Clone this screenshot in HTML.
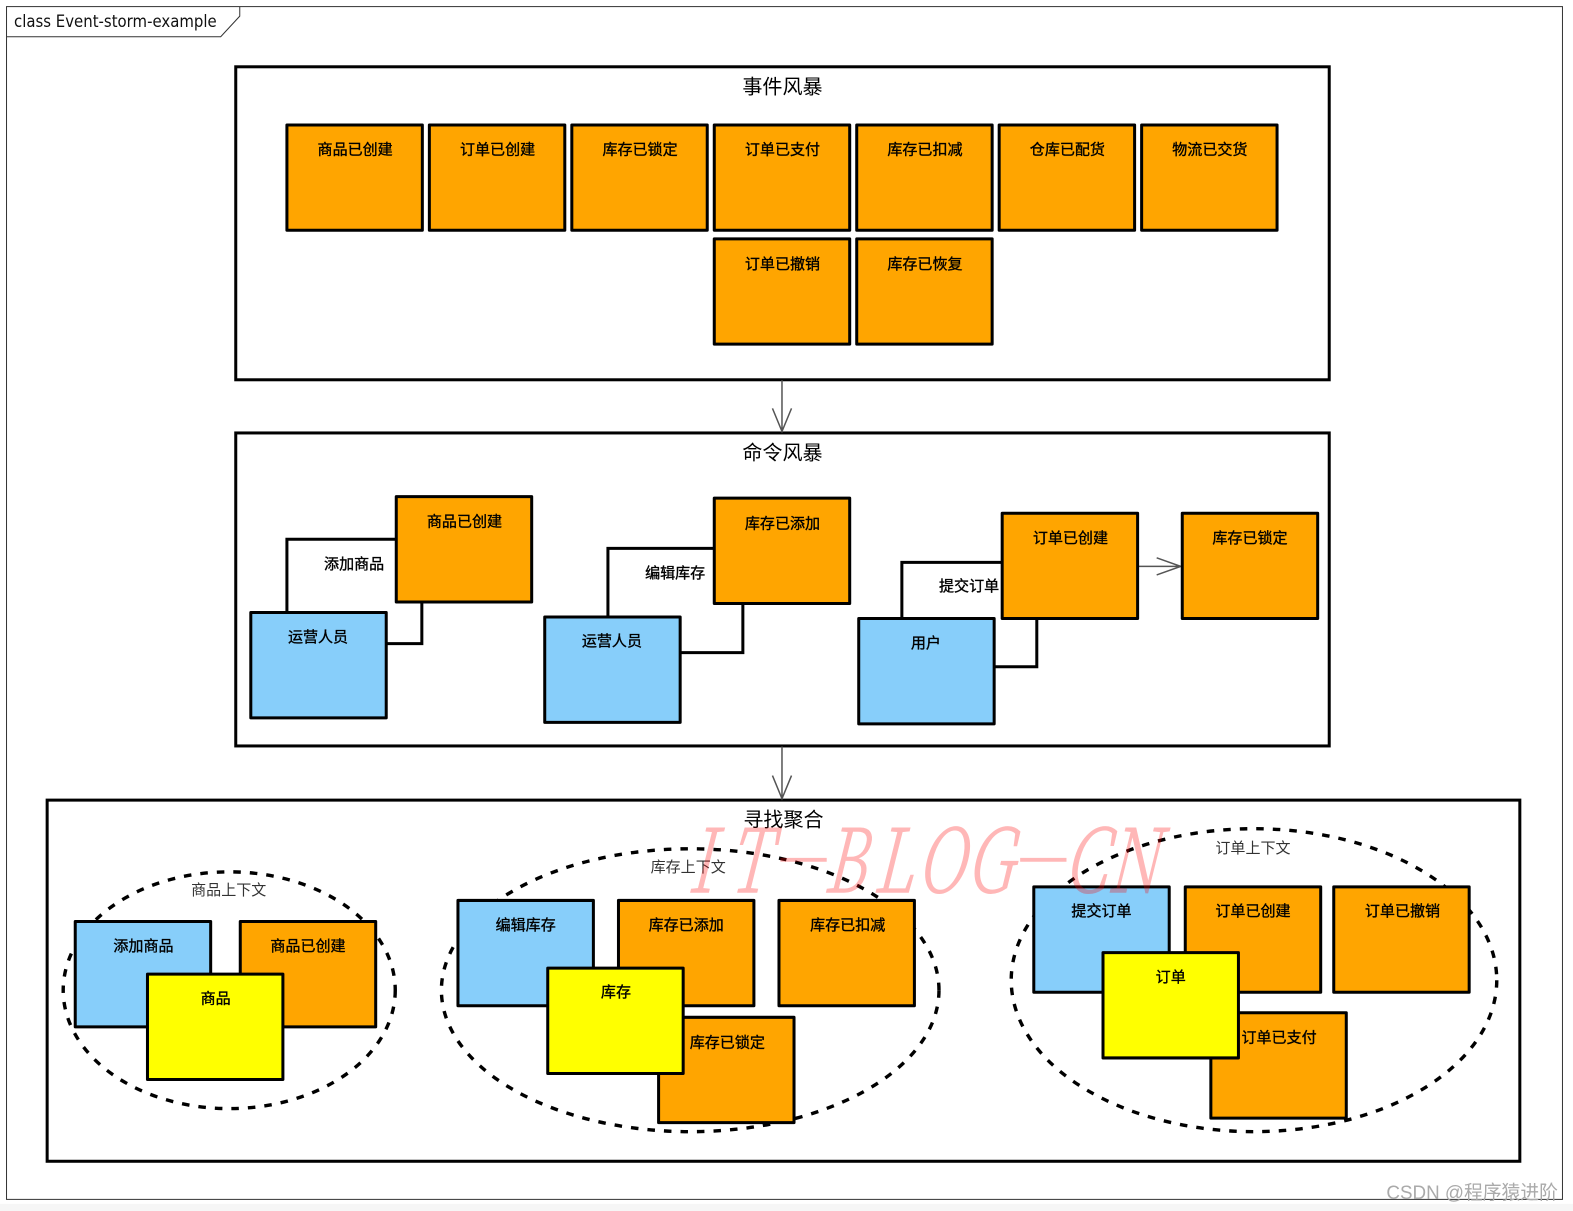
<!DOCTYPE html>
<html><head><meta charset="utf-8"><title>class Event-storm-example</title>
<style>html,body{margin:0;padding:0;background:#fff}svg{display:block}
.t{font-family:"Liberation Sans","WenQuanYi Zen Hei","Noto Sans CJK SC",sans-serif;text-anchor:middle;fill:#000}
.w{font-family:"Noto Serif CJK SC","Liberation Serif",serif;font-weight:200;font-size:88px;text-anchor:middle;fill:#ff0000}
</style></head><body>
<svg width="1573" height="1211" viewBox="0 0 1568 1207" xmlns="http://www.w3.org/2000/svg">
<rect x="0" y="1200" width="1568" height="7" fill="#f6f6f6"/>
<rect x="6.5" y="6.5" width="1551" height="1189" fill="#fff" stroke="#333" stroke-width="1"/>
<path d="M6.5 36.500H220L239 16V6.500" fill="none" stroke="#333" stroke-width="1"/>
<text x="14" y="27" font-size="17" style="font-family:'DejaVu Sans','Liberation Sans',sans-serif" fill="#111" textLength="202" lengthAdjust="spacingAndGlyphs">class Event-storm-example</text>

<g fill="#fff" stroke="#000" stroke-width="3">
<rect x="235" y="66.500" width="1090" height="312"/>
<rect x="235" y="431.500" width="1090" height="312"/>
<rect x="47" y="797.500" width="1468" height="360"/>
</g>
<g fill="none" stroke="#555" stroke-width="1.500">
<path d="M779.500 379V430M770 407L779.500 430L789 407"/>
<path d="M779.500 744V796M770 773L779.500 796L789 773"/>
<path d="M1134 564.500H1177M1153 556L1177 564.500L1153 573"/>
</g>
<g fill="none" stroke="#000" stroke-width="3">
<path d="M286 610V537.500H395M385 641.500H420.500V600"/>
<path d="M606 615V546.500H712M678 650.500H740.500V601"/>
<path d="M899 616V560.500H999M991 664.500H1033.500V616"/>
</g>
<g fill="none" stroke="#000" stroke-width="3.400" stroke-dasharray="7.500 9">
<ellipse cx="228.500" cy="987" rx="165.500" ry="118"/>
<ellipse cx="688" cy="987" rx="248" ry="141"/>
<ellipse cx="1250" cy="977" rx="242" ry="151"/>
</g>

<g stroke="#000" stroke-width="3" stroke-linejoin="round">
<g fill="#FFA500">
<rect x="286" y="124.500" width="135" height="105"/>
<rect x="428" y="124.500" width="135" height="105"/>
<rect x="570" y="124.500" width="135" height="105"/>
<rect x="712" y="124.500" width="135" height="105"/>
<rect x="854" y="124.500" width="135" height="105"/>
<rect x="996" y="124.500" width="135" height="105"/>
<rect x="1138" y="124.500" width="135" height="105"/>
<rect x="712" y="238" width="135" height="105"/>
<rect x="854" y="238" width="135" height="105"/>
<rect x="395" y="495" width="135" height="105"/>
<rect x="712" y="496.500" width="135" height="105"/>
<rect x="999" y="511.500" width="135" height="105"/>
<rect x="1178.500" y="511.500" width="135" height="105"/>
</g>
<g fill="#87CEFA">
<rect x="250" y="610.500" width="135" height="105"/>
<rect x="543" y="615" width="135" height="105"/>
<rect x="856" y="616.500" width="135" height="105"/>
<rect x="75" y="918.500" width="135" height="105"/>
<rect x="456.500" y="897.500" width="135" height="105"/>
<rect x="1030.500" y="884" width="135" height="105"/>
</g>
<g fill="#FFA500">
<rect x="239.500" y="918.500" width="135" height="105"/>
<rect x="616.500" y="897.500" width="135" height="105"/>
<rect x="776.500" y="897.500" width="135" height="105"/>
<rect x="656.500" y="1014" width="135" height="105"/>
<rect x="1181.500" y="884" width="135" height="105"/>
<rect x="1329.500" y="884" width="135" height="105"/>
<rect x="1207" y="1009.500" width="135" height="105"/>
</g>
<g fill="#FFFF00">
<rect x="147" y="971" width="135" height="105"/>
<rect x="546" y="965" width="135" height="105"/>
<rect x="1099.500" y="949.500" width="135" height="105"/>
</g>
</g>

<g font-size="20">
<text class="t" x="780" y="93">事件风暴</text>
<text class="t" x="780" y="458">命令风暴</text>
<text class="t" x="781" y="824">寻找聚合</text>
</g>
<g font-size="15" stroke="#000" stroke-width="0.350">
<text class="t" x="354" y="154">商品已创建</text>
<text class="t" x="496" y="154">订单已创建</text>
<text class="t" x="638" y="154">库存已锁定</text>
<text class="t" x="780" y="154">订单已支付</text>
<text class="t" x="922" y="154">库存已扣减</text>
<text class="t" x="1064" y="154">仓库已配货</text>
<text class="t" x="1206" y="154">物流已交货</text>
<text class="t" x="780" y="268">订单已撤销</text>
<text class="t" x="922" y="268">库存已恢复</text>
<text class="t" x="463" y="525">商品已创建</text>
<text class="t" x="780" y="527">库存已添加</text>
<text class="t" x="1067" y="541">订单已创建</text>
<text class="t" x="1246" y="541">库存已锁定</text>
<text class="t" x="353" y="567">添加商品</text>
<text class="t" x="673" y="576">编辑库存</text>
<text class="t" x="966" y="589">提交订单</text>
<text class="t" x="317" y="640">运营人员</text>
<text class="t" x="610" y="644">运营人员</text>
<text class="t" x="923" y="646">用户</text>
<text class="t" x="143" y="948">添加商品</text>
<text class="t" x="307" y="948">商品已创建</text>
<text class="t" x="215" y="1000">商品</text>
<text class="t" x="524" y="927">编辑库存</text>
<text class="t" x="684" y="927">库存已添加</text>
<text class="t" x="845" y="927">库存已扣减</text>
<text class="t" x="614" y="994">库存</text>
<text class="t" x="725" y="1044">库存已锁定</text>
<text class="t" x="1098" y="913">提交订单</text>
<text class="t" x="1249" y="913">订单已创建</text>
<text class="t" x="1398" y="913">订单已撤销</text>
<text class="t" x="1167" y="979">订单</text>
<text class="t" x="1275" y="1039">订单已支付</text>
</g>
<g font-size="15" style="opacity:.8">
<text class="t" x="228" y="892">商品上下文</text>
<text class="t" x="686" y="869">库存上下文</text>
<text class="t" x="1249" y="850">订单上下文</text>
</g>
<g opacity=".28">
<g transform="translate(674,889) skewX(-14) scale(.71,1)" stroke="#ff0000" stroke-width="1.400">
<text class="w" x="33 100">IT</text>
<text class="w" x="235 303 370 438">BLOG</text>
<text class="w" x="573 640">CN</text>
</g>
<g transform="translate(801,880) scale(2.100,1)"><text class="w" x="0" y="0">-</text></g>
<g transform="translate(1040,880) scale(2.100,1)"><text class="w" x="0" y="0">-</text></g>
</g>
<text x="1382" y="1195" font-size="19" style="font-family:'Liberation Sans','WenQuanYi Zen Hei','Noto Sans CJK SC',sans-serif" fill="#aaa" textLength="171" lengthAdjust="spacingAndGlyphs">CSDN @程序猿进阶</text>
</svg>
</body></html>
